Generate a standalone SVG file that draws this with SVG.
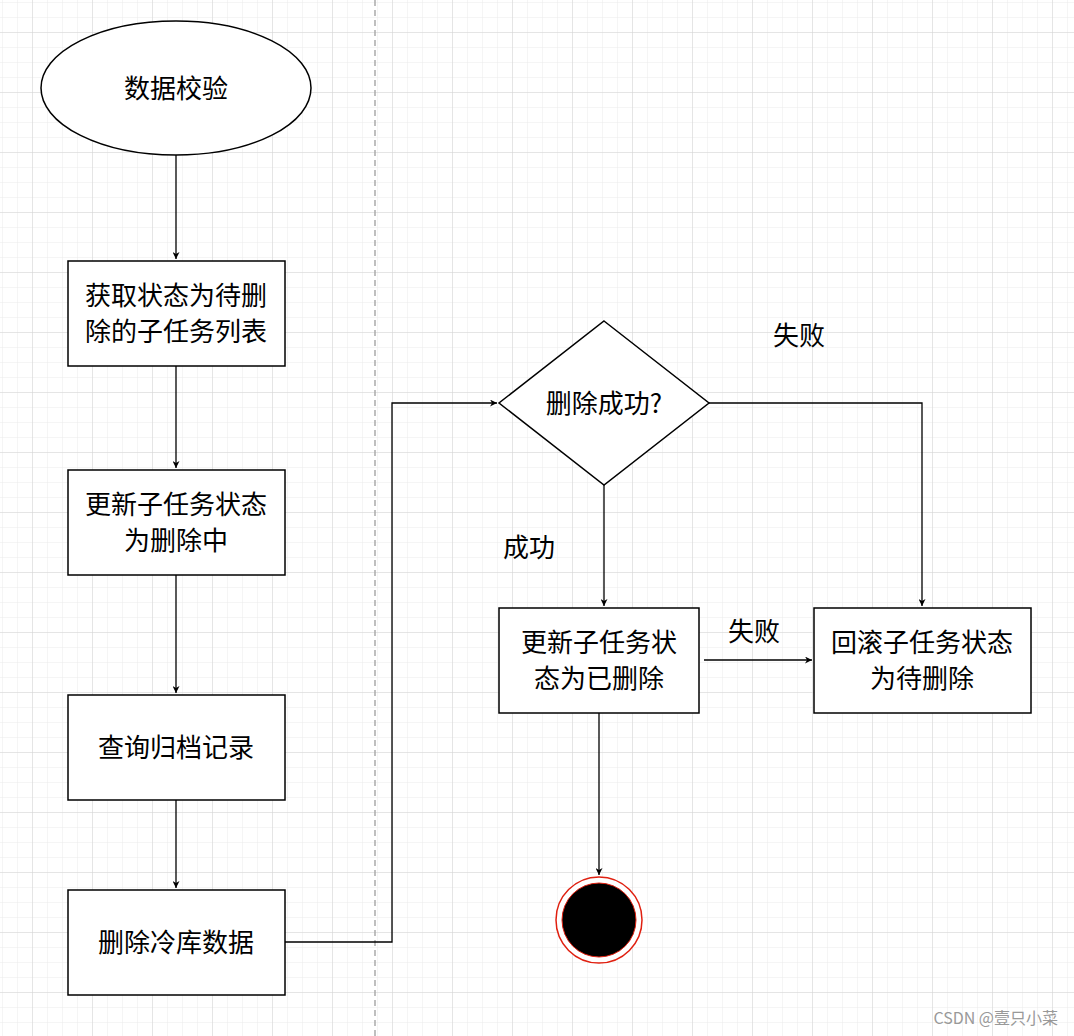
<svg xmlns="http://www.w3.org/2000/svg" width="1074" height="1036" viewBox="0 0 1074 1036">
<defs>
<pattern id="g" width="15" height="15" patternUnits="userSpaceOnUse" x="3" y="3"><path d="M15 0V15M0 15H15" fill="none" stroke="#ebebeb" stroke-width="1"/></pattern>
<pattern id="G" width="60" height="60" patternUnits="userSpaceOnUse" x="33" y="33"><path d="M60 0V60M0 60H60" fill="none" stroke="#d4d4d4" stroke-width="1"/></pattern>
<marker id="a" viewBox="0 0 10 10" refX="10" refY="5" markerWidth="7" markerHeight="7" orient="auto" markerUnits="userSpaceOnUse" ><path d="M0 0L10 5L0 10L3 5Z" fill="#000"/></marker>
</defs>
<style>
.n{fill:#fff;stroke:#000;stroke-width:1.5}
.t{font-family:"Noto Sans CJK SC","Liberation Sans",sans-serif;font-size:26px;text-anchor:middle;fill:#000}
.c{fill:none;stroke:#000;stroke-width:1.3;marker-end:url(#a)}
</style>
<rect width="1074" height="1036" fill="#fff"/>
<rect width="1074" height="1036" fill="url(#g)"/>
<rect width="1074" height="1036" fill="url(#G)"/>
<line x1="375" y1="0" x2="375" y2="1036" stroke="#aaa" stroke-width="1.5" stroke-dasharray="6 4"/>
<g id="connectors">
<path class="c" d="M176 155V259"/>
<path class="c" d="M176 366V468"/>
<path class="c" d="M176 575V693"/>
<path class="c" d="M176 800V888"/>
<path class="c" d="M285 942H392V403H497"/>
<path class="c" d="M709 403H922V606"/>
<path class="c" d="M604 485V606"/>
<path class="c" d="M704 660H812"/>
<path class="c" d="M599 713V875"/>
</g>
<g id="n1"><ellipse class="n" cx="176" cy="88" rx="135" ry="67"/><text class="t" x="176" y="98">数据校验</text></g>
<g id="n2"><rect class="n" x="68" y="261" width="217" height="105"/><text class="t" x="176" y="305">获取状态为待删</text><text class="t" x="176" y="341">除的子任务列表</text></g>
<g id="n3"><rect class="n" x="68" y="470" width="217" height="105"/><text class="t" x="176" y="514">更新子任务状态</text><text class="t" x="176" y="550">为删除中</text></g>
<g id="n4"><rect class="n" x="68" y="695" width="217" height="105"/><text class="t" x="176" y="757">查询归档记录</text></g>
<g id="n5"><rect class="n" x="68" y="890" width="217" height="105"/><text class="t" x="176" y="952">删除冷库数据</text></g>
<g id="n6"><path class="n" d="M604 321L709 403L604 485L499 403Z"/><text class="t" x="604" y="413">删除成功?</text></g>
<g id="n7"><rect class="n" x="499" y="608" width="200" height="105"/><text class="t" x="599" y="652">更新子任务状</text><text class="t" x="599" y="688">态为已删除</text></g>
<g id="n8"><rect class="n" x="814" y="608" width="217" height="105"/><text class="t" x="922" y="652">回滚子任务状态</text><text class="t" x="922" y="688">为待删除</text></g>
<g id="n9"><circle cx="599" cy="920" r="43" fill="#fff" stroke="#e02010" stroke-width="1.5"/><circle cx="599" cy="920" r="37" fill="#000" stroke="#e02010" stroke-width="1"/></g>
<g id="labels">
<text class="t" x="799" y="345">失败</text>
<text class="t" x="529" y="557">成功</text>
<text class="t" x="754" y="641">失败</text>
<text x="1058" y="1024" font-family="Noto Sans CJK SC,Liberation Sans,sans-serif" font-size="16" fill="#999" text-anchor="end">CSDN @壹只小菜</text>
</g>
</svg>
